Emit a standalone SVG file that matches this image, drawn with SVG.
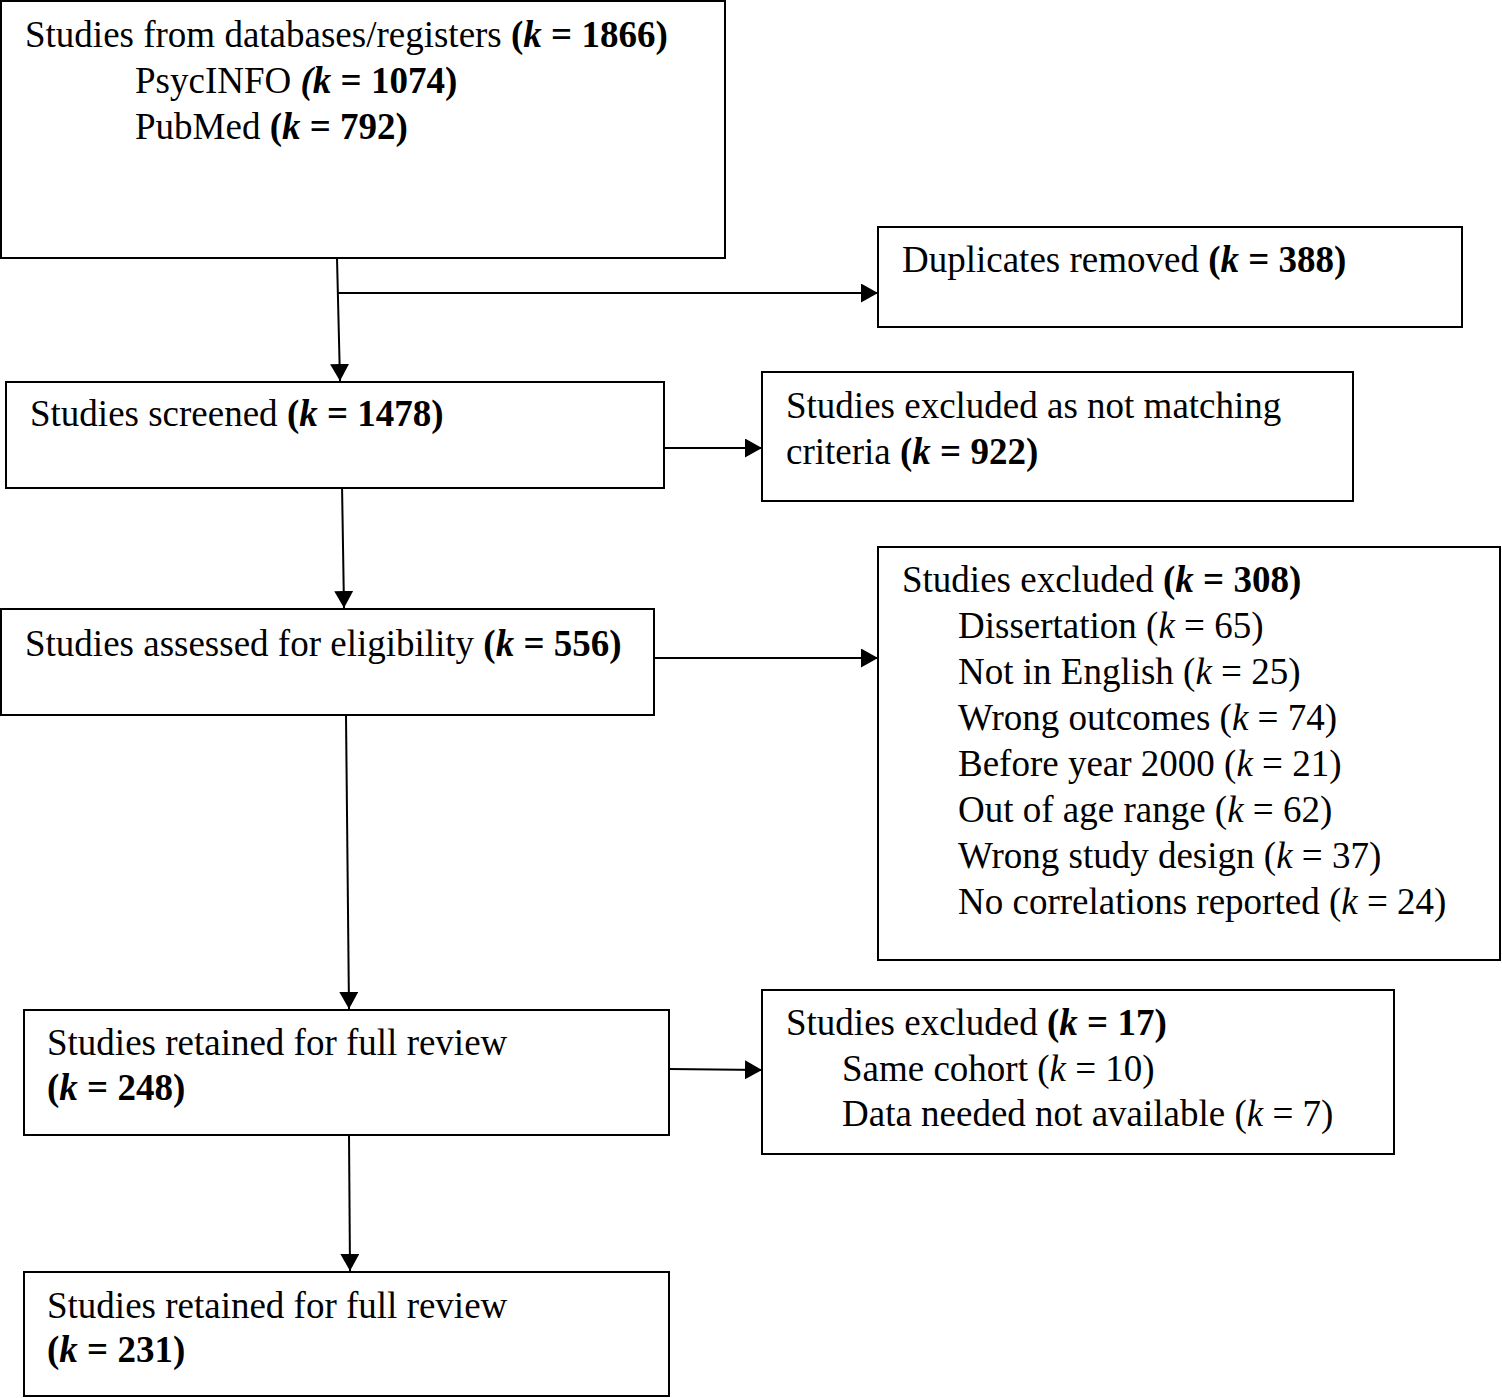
<svg xmlns="http://www.w3.org/2000/svg" width="1502" height="1398" viewBox="0 0 1502 1398">
<style>
.box{fill:#fff;stroke:#000;stroke-width:2}
text{font-family:"Liberation Serif","Times New Roman",serif;font-size:37px;fill:#000}
.b{font-weight:bold}
.i{font-style:italic}
.c{stroke:#000;stroke-width:2;fill:none;marker-end:url(#ah)}
</style>
<defs>
<marker id="ah" markerUnits="userSpaceOnUse" markerWidth="18" markerHeight="20" refX="17" refY="9.5" orient="auto">
<path d="M0,0 L17,9.5 L0,19 Z" fill="#000"/>
</marker>
</defs>
<rect width="1502" height="1398" fill="#fff"/>
<g id="connectors">
<path class="c" d="M337,258 L340,381"/>
<path class="c" d="M338,293 L878,293"/>
<path class="c" d="M664,448 L762,448"/>
<path class="c" d="M342,484 L344,608"/>
<path class="c" d="M654,658 L878,658"/>
<path class="c" d="M346,715 L349,1009"/>
<path class="c" d="M669,1069 L762,1070"/>
<path class="c" d="M349,1135 L350,1271"/>
</g>
<g id="n1">
<rect class="box" x="1" y="1" width="724" height="257"/>
<text x="25" y="47">Studies from databases/registers <tspan class="b">(<tspan class="i">k</tspan> = 1866)</tspan></text>
<text x="135" y="93">PsycINFO <tspan class="b i">(k</tspan><tspan class="b"> = 1074)</tspan></text>
<text x="135" y="139">PubMed <tspan class="b">(<tspan class="i">k</tspan> = 792)</tspan></text>
</g>
<g id="n2">
<rect class="box" x="878" y="227" width="584" height="100"/>
<text x="902" y="272">Duplicates removed <tspan class="b">(<tspan class="i">k</tspan> = 388)</tspan></text>
</g>
<g id="n3">
<rect class="box" x="6" y="382" width="658" height="106"/>
<text x="30" y="426">Studies screened <tspan class="b">(<tspan class="i">k</tspan> = 1478)</tspan></text>
</g>
<g id="n4">
<rect class="box" x="762" y="372" width="591" height="129"/>
<text x="786" y="418">Studies excluded as not matching</text>
<text x="786" y="464">criteria <tspan class="b">(<tspan class="i">k</tspan> = 922)</tspan></text>
</g>
<g id="n5">
<rect class="box" x="1" y="609" width="653" height="106"/>
<text x="25" y="656">Studies assessed for eligibility <tspan class="b">(<tspan class="i">k</tspan> = 556)</tspan></text>
</g>
<g id="n6">
<rect class="box" x="878" y="547" width="622" height="413"/>
<text x="902" y="592">Studies excluded <tspan class="b">(<tspan class="i">k</tspan> = 308)</tspan></text>
<text x="958" y="638">Dissertation (<tspan class="i">k</tspan> = 65)</text>
<text x="958" y="684">Not in English (<tspan class="i">k</tspan> = 25)</text>
<text x="958" y="730">Wrong outcomes (<tspan class="i">k</tspan> = 74)</text>
<text x="958" y="776">Before year 2000 (<tspan class="i">k</tspan> = 21)</text>
<text x="958" y="822">Out of age range (<tspan class="i">k</tspan> = 62)</text>
<text x="958" y="868">Wrong study design (<tspan class="i">k</tspan> = 37)</text>
<text x="958" y="914">No correlations reported (<tspan class="i">k</tspan> = 24)</text>
</g>
<g id="n7">
<rect class="box" x="24" y="1010" width="645" height="125"/>
<text x="47" y="1055">Studies retained for full review</text>
<text x="47" y="1100" class="b">(<tspan class="i">k</tspan> = 248)</text>
</g>
<g id="n8">
<rect class="box" x="762" y="990" width="632" height="164"/>
<text x="786" y="1035">Studies excluded <tspan class="b">(<tspan class="i">k</tspan> = 17)</tspan></text>
<text x="842" y="1081">Same cohort (<tspan class="i">k</tspan> = 10)</text>
<text x="842" y="1126">Data needed not available (<tspan class="i">k</tspan> = 7)</text>
</g>
<g id="n9">
<rect class="box" x="24" y="1272" width="645" height="124"/>
<text x="47" y="1318">Studies retained for full review</text>
<text x="47" y="1362" class="b">(<tspan class="i">k</tspan> = 231)</text>
</g>
</svg>
